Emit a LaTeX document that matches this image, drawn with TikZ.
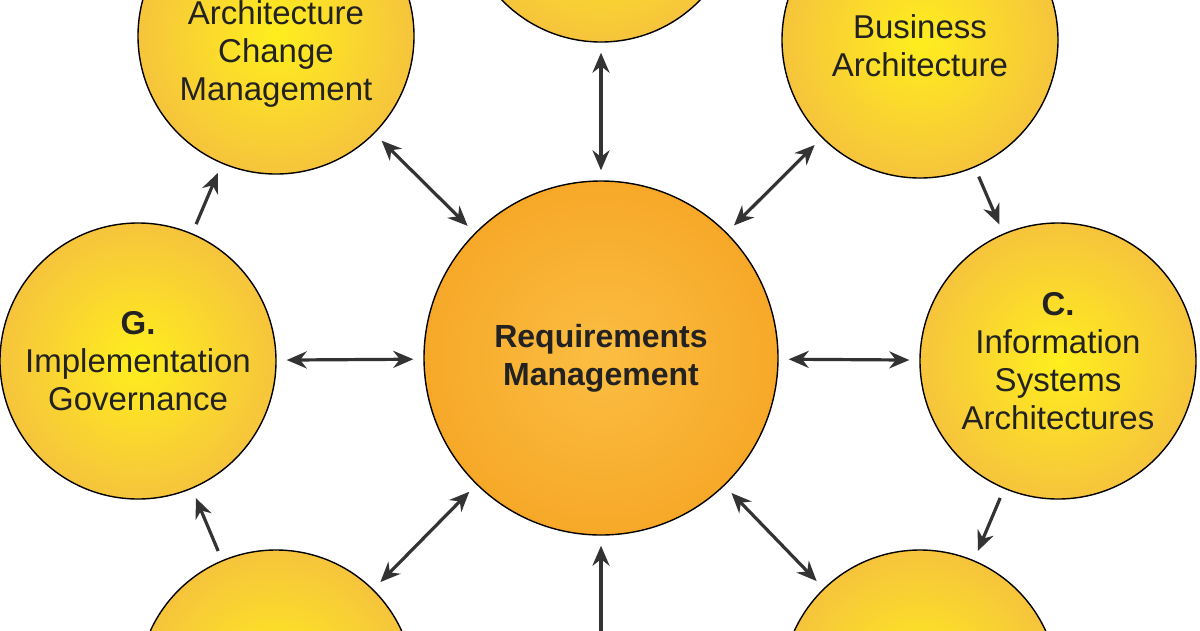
\documentclass[tikz,border=0pt]{standalone}
\usepackage{fontspec}
\setmainfont{Liberation Sans}
\usetikzlibrary{arrows.meta}
\definecolor{ink}{HTML}{222222}
\definecolor{arr}{HTML}{333333}
\tikzset{
  outer/.style={circle,draw=black,line width=1.4pt,minimum size=276pt,inner sep=0pt,
    inner color={rgb,255:red,255;green,238;blue,30},outer color={rgb,255:red,246;green,196;blue,60},
    align=center,text=ink,font=\fontsize{33}{38}\selectfont},
  core/.style={circle,draw=black,line width=1.4pt,minimum size=354pt,inner sep=0pt,
    inner color={rgb,255:red,251;green,190;blue,66},outer color={rgb,255:red,247;green,168;blue,40},
    align=center,text=ink,font=\bfseries\fontsize{32}{38}\selectfont},
  dbl/.style={{Stealth[length=20pt,width=17pt]}-{Stealth[length=20pt,width=17pt]},line width=3.2pt,draw=arr,shorten <=10pt,shorten >=10pt},
  sgl/.style={-{Stealth[length=20pt,width=17pt]},line width=3.2pt,draw=arr,shorten <=10pt,shorten >=10pt}
}
\begin{document}
\begin{tikzpicture}[x=1pt,y=-1pt]
\useasboundingbox (0,0) rectangle (1200,630);
\clip (0,0) rectangle (1200,630);
\fill[white] (0,0) rectangle (1200,630);
\node[core] (R) at (601,358) {Requirements\\Management};
\node[outer] (A) at (601,-96) {\textbf{A.}\\Architecture\\Vision};
\node[outer] (B) at (920,40) {\textbf{B.}\\Business\\Architecture\\[-12pt]};
\node[outer] (C) at (1058,361) {\textbf{C.}\\Information\\Systems\\Architectures};
\node[outer] (D) at (920,688) {\textbf{D.}\\Technology\\Architecture};
\node[outer] (E) at (601,815) {\textbf{E.}\\Opportunities\\and Solutions};
\node[outer] (F) at (276,688) {\textbf{F.}\\Migration\\Planning};
\node[outer] (G) at (138,361) {\textbf{G.}\\Implementation\\Governance};
\node[outer] (H) at (276,36) {\textbf{H.}\\Architecture\\Change\\Management};
\foreach \n in {A,B,C,D,E,F,G,H} \draw[dbl] (R) -- (\n);
\draw[sgl] (A) -- (B);
\draw[sgl] (B) -- (C);
\draw[sgl] (C) -- (D);
\draw[sgl] (D) -- (E);
\draw[sgl] (E) -- (F);
\draw[sgl] (F) -- (G);
\draw[sgl] (G) -- (H);
\draw[sgl] (H) -- (A);
\end{tikzpicture}
\end{document}
